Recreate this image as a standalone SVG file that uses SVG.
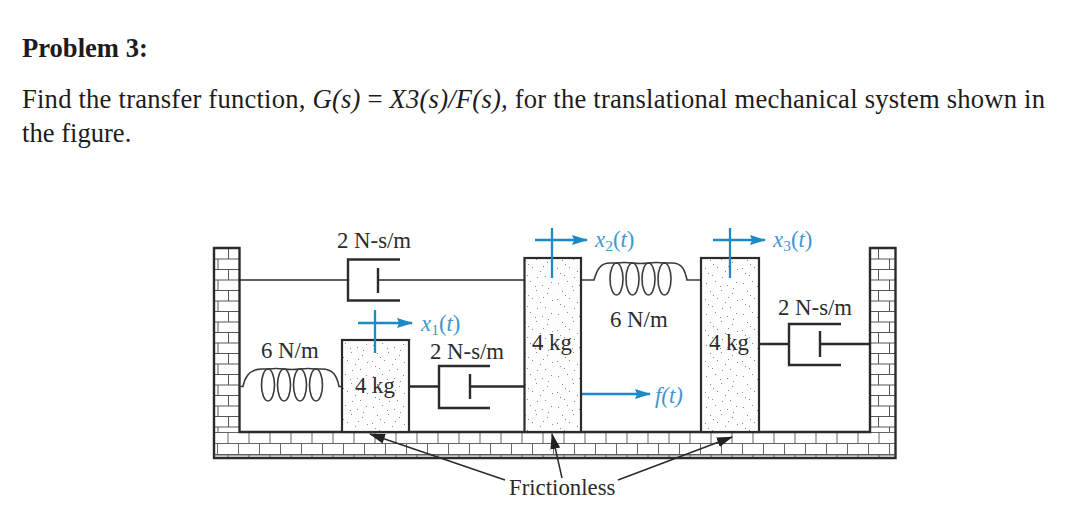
<svg xmlns="http://www.w3.org/2000/svg" width="1071" height="517" viewBox="0 0 1071 517">
<style>
text{font-family:"Liberation Serif","Times New Roman",serif;fill:#1c1c1c}
.h{font-size:26.6px}
.l{font-size:22.8px;fill:#2b2b2b}
.b{font-size:22.8px;fill:#3f97cf}
.s{font-size:15.5px;fill:#3f97cf}
.i{font-style:italic}
.w{fill:none;stroke:#2b2b2b;stroke-width:1.6}
.t{fill:none;stroke:#2b2b2b;stroke-width:2.4}
.m{fill:url(#speck);stroke:#2b2b2b;stroke-width:2.2}
.c{fill:none;stroke:#3a3a3a;stroke-width:1.6}
.a{fill:none;stroke:#1b8ac6;stroke-width:2.3}
.f{fill:none;stroke:#2a2a2a;stroke-width:1.5}
</style>
<defs>
<pattern id="speck" width="37" height="31" patternUnits="userSpaceOnUse">
<rect width="37" height="31" fill="#fdfdfd"/>
<g fill="#8a8a8a">
<rect x="3" y="4" width="1" height="1"/><rect x="12" y="2" width="1" height="1"/><rect x="24" y="6" width="1" height="1"/><rect x="33" y="3" width="1" height="1"/><rect x="7" y="12" width="1" height="1"/><rect x="18" y="11" width="1" height="1"/><rect x="29" y="14" width="1" height="1"/><rect x="2" y="20" width="1" height="1"/><rect x="14" y="19" width="1" height="1"/><rect x="22" y="23" width="1" height="1"/><rect x="34" y="21" width="1" height="1"/><rect x="9" y="27" width="1" height="1"/><rect x="27" y="28" width="1" height="1"/><rect x="17" y="7" width="1" height="1"/><rect x="30" y="9" width="1" height="1"/><rect x="10" y="16" width="1" height="1"/><rect x="25" y="18" width="1" height="1"/><rect x="5" y="25" width="1" height="1"/><rect x="19" y="29" width="1" height="1"/>
</g>
</pattern>
<pattern id="brickL" x="214" y="248" width="26" height="21" patternUnits="userSpaceOnUse">
<rect width="26" height="21" fill="#fff"/>
<path d="M0 .5H26M0 11H26M14.5 0V11M4 11V21" fill="none" stroke="#555" stroke-width="1"/>
</pattern>
<pattern id="brickR" x="870" y="248" width="26" height="21" patternUnits="userSpaceOnUse">
<rect width="26" height="21" fill="#fff"/>
<path d="M0 .5H26M0 11H26M8.500 0V11M19.500 11V21" fill="none" stroke="#555" stroke-width="1"/>
</pattern>
<pattern id="brickF" x="214" y="432" width="21" height="26" patternUnits="userSpaceOnUse">
<rect width="21" height="26" fill="#fff"/>
<path d="M0 .5H21M0 11.500H21M0 22.500H21M14 0V11.500M3.500 11.500V22.500M14 22.500V26" fill="none" stroke="#666" stroke-width="1"/>
</pattern>
<marker id="ab" markerWidth="16" markerHeight="10" refX="15" refY="5" orient="auto" markerUnits="userSpaceOnUse" viewBox="0 0 16 10"><path d="M0 0L16 5L0 10L2 5Z" fill="#1b8ac6"/></marker>
<marker id="ak" markerWidth="16" markerHeight="10" refX="15" refY="5" orient="auto" markerUnits="userSpaceOnUse" viewBox="0 0 16 10"><path d="M0 0L16 5L0 10Z" fill="#222"/></marker>
<g id="coils">
<ellipse cx="-24" cy="0" rx="6.500" ry="16" class="c"/><ellipse cx="-8" cy="0" rx="6.500" ry="16" class="c"/><ellipse cx="8" cy="0" rx="6.500" ry="16" class="c"/><ellipse cx="24" cy="0" rx="6.500" ry="16" class="c"/>
<path d="M-24-16Q-16-17-8-16T8-16T24-16" class="c"/>
</g>
</defs>

<g id="heading">
<text x="22" y="57" font-weight="bold" font-size="26.6px">Problem 3:</text>
<text class="h" x="22" y="108" textLength="1023" lengthAdjust="spacing">Find the transfer function, <tspan class="i">G(s)</tspan> = <tspan class="i">X3(s)/F(s),</tspan> for the translational mechanical system shown in</text>
<text class="h" x="22" y="142">the figure.</text>
</g>

<g id="ground">
<path d="M214 248H239.500V432H870V248H895.500V458H214Z" fill="#fff"/>
<rect x="214" y="248" width="25.500" height="184" fill="url(#brickL)"/>
<rect x="870" y="248" width="25.500" height="184" fill="url(#brickR)"/>
<rect x="214" y="432" width="681.500" height="26" fill="url(#brickF)"/>
<path d="M214 248H239.500V432H870V248H895.500V458H214Z" class="t"/>
<path d="M214 455H895.500" fill="none" stroke="#555" stroke-width="1"/>
</g>

<g id="connectors">
<g id="damper-top">
<path d="M240 280H348M379 280H524" class="w"/>
<path d="M400 259.500H348V300.500H400" class="t"/>
<path d="M378 268V293" class="t"/>
</g>
<g id="damper-middle">
<path d="M409 386.500H439M471 386.500H524" class="t"/>
<path d="M490 366H439V408H490" class="t"/>
<path d="M470 374V399" class="t"/>
</g>
<g id="damper-right">
<path d="M759 344H789M820 344H870" class="t"/>
<path d="M841 324H789V365H841" class="t"/>
<path d="M820 331V357" class="t"/>
</g>
<g id="spring-left">
<path d="M240 386.500H243C245 376 250 369 262 369H268M316 369H322C333 369 337 376 339 386.500H342" class="c"/>
<use href="#coils" x="292" y="385"/>
</g>
<g id="spring-top">
<path d="M581 280H594C597 270 600 263 610 263H617M664 263H672C682 263 685 270 687 280H701" class="c"/>
<use href="#coils" x="640.500" y="279"/>
</g>
<g id="force-f">
<path d="M581 394H650" class="a" marker-end="url(#ab)"/>
</g>
<g id="pointers">
<path d="M505 480L370 434" class="f" marker-end="url(#ak)"/>
<path d="M562 478L552 434" class="f" marker-end="url(#ak)"/>
<path d="M618 480L732 437" class="f" marker-end="url(#ak)"/>
</g>
</g>

<g id="mass-1">
<rect x="342" y="340" width="67" height="92" class="m"/>
<text class="l" x="355" y="393">4 kg</text>
</g>
<g id="mass-2">
<rect x="524.500" y="258" width="56.500" height="174" class="m"/>
<text class="l" x="532" y="350">4 kg</text>
</g>
<g id="mass-3">
<rect x="701" y="258" width="58" height="174" class="m"/>
<text class="l" x="709" y="350">4 kg</text>
</g>

<g id="marker-x1">
<path d="M375 310V353" class="a"/>
<path d="M358 323H412" class="a" marker-end="url(#ab)"/>
<text class="b i" x="421" y="331">x<tspan class="s" font-style="normal" dy="4">1</tspan><tspan dy="-4" font-style="normal">(</tspan>t<tspan font-style="normal">)</tspan></text>
</g>
<g id="marker-x2">
<path d="M552 228V278" class="a"/>
<path d="M535 240H587" class="a" marker-end="url(#ab)"/>
<text class="b i" x="595" y="247">x<tspan class="s" font-style="normal" dy="4">2</tspan><tspan dy="-4" font-style="normal">(</tspan>t<tspan font-style="normal">)</tspan></text>
</g>
<g id="marker-x3">
<path d="M730 228V278" class="a"/>
<path d="M713 240H765" class="a" marker-end="url(#ab)"/>
<text class="b i" x="773" y="247">x<tspan class="s" font-style="normal" dy="4">3</tspan><tspan dy="-4" font-style="normal">(</tspan>t<tspan font-style="normal">)</tspan></text>
</g>

<g id="labels">
<text class="l" x="337" y="248">2 N-s/m</text>
<text class="l" x="261" y="358">6 N/m</text>
<text class="l" x="430" y="359">2 N-s/m</text>
<text class="l" x="610" y="327">6 N/m</text>
<text class="l" x="778" y="315">2 N-s/m</text>
<text class="b i" x="655" y="403">f(t)</text>
<text class="l" x="509" y="495">Frictionless</text>
</g>
</svg>
